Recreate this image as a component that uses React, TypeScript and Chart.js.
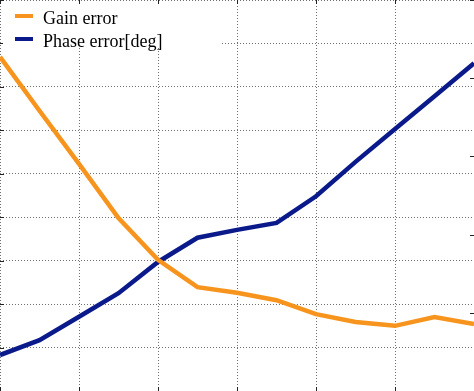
import React, { useEffect, useRef } from "react";
import { Chart, registerables } from "chart.js";

Chart.register(...registerables);

// ---- data ----
const xValues = [0, 1, 2, 3, 4, 5, 6, 7, 8, 9, 10, 11, 12];
const gainError = [0.769, 0.645, 0.523, 0.398, 0.302, 0.239, 0.226, 0.209, 0.177, 0.159, 0.150, 0.170, 0.154];
const phaseError = [0.46, 0.65, 0.95, 1.25, 1.65, 1.96, 2.06, 2.15, 2.49, 2.93, 3.35, 3.77, 4.19];
const seriesLabels = ["Gain error", "Phase error[deg]"];
const xTickValues = [0, 2, 4, 6, 8, 10, 12];
const leftTickValues = [0, 0.1, 0.2, 0.3, 0.4, 0.5, 0.6, 0.7, 0.8, 0.9];
const rightTickValues = [0, 1, 2, 3, 4, 5];

const ORANGE = "#F7941D";
const NAVY = "#0A1A8A";
const GRID = "#707070";

const innerTicks = {
  id: "innerTicks",
  afterDatasetsDraw(chart: any) {
    const { ctx, chartArea: a, scales } = chart;
    ctx.save();
    ctx.strokeStyle = "#222";
    ctx.lineWidth = 1;
    const L = 4;
    ctx.beginPath();
    for (const v of xTickValues) {
      const px = Math.round(scales.x.getPixelForValue(v)) + 0.5;
      ctx.moveTo(px, a.top);
      ctx.lineTo(px, a.top + L);
      ctx.moveTo(px, a.bottom);
      ctx.lineTo(px, a.bottom - L);
    }
    for (const v of leftTickValues) {
      const py = Math.round(scales.y.getPixelForValue(v)) + 0.5;
      ctx.moveTo(a.left, py);
      ctx.lineTo(a.left + L, py);
    }
    for (const v of rightTickValues) {
      const py = Math.round(scales.y1.getPixelForValue(v)) + 0.5;
      ctx.moveTo(a.right, py);
      ctx.lineTo(a.right - L, py);
    }
    ctx.stroke();
    ctx.restore();
  },
};

const boxLegend = {
  id: "boxLegend",
  afterDraw(chart: any) {
    const { ctx, chartArea: a } = chart;
    ctx.save();
    ctx.fillStyle = "#ffffff";
    ctx.fillRect(a.left + 3, a.top + 4, 218, 44);
    ctx.font = '18px "Liberation Serif", "Times New Roman", serif';
    ctx.textBaseline = "alphabetic";
    chart.data.datasets.forEach((ds: any, i: number) => {
      const baseline = a.top + 24 + i * 23;
      const ly = baseline - 8;
      ctx.strokeStyle = ds.borderColor;
      ctx.lineWidth = 4;
      ctx.beginPath();
      ctx.moveTo(a.left + 15, ly);
      ctx.lineTo(a.left + 33, ly);
      ctx.stroke();
      ctx.fillStyle = "#000";
      ctx.fillText(ds.label, a.left + 43, baseline);
    });
    ctx.restore();
  },
};

export default function App() {
  const ref = useRef<HTMLCanvasElement | null>(null);

  useEffect(() => {
    if (!ref.current) return;
    const chart = new Chart(ref.current, {
      type: "line",
      data: {
        datasets: [
          {
            label: seriesLabels[0],
            data: xValues.map((x, i) => ({ x, y: gainError[i] })),
            borderColor: ORANGE,
            backgroundColor: ORANGE,
            borderWidth: 4.5,
            pointRadius: 0,
            tension: 0,
            yAxisID: "y",
          },
          {
            label: seriesLabels[1],
            data: xValues.map((x, i) => ({ x, y: phaseError[i] })),
            borderColor: NAVY,
            backgroundColor: NAVY,
            borderWidth: 4.5,
            pointRadius: 0,
            tension: 0,
            yAxisID: "y1",
          },
        ],
      },
      options: {
        responsive: false,
        animation: false,
        layout: { padding: 0 },
        plugins: { legend: { display: false }, tooltip: { enabled: false } },
        scales: {
          x: {
            type: "linear",
            min: 0,
            max: 12,
            ticks: { display: false, stepSize: 2 },
            grid: { color: GRID, lineWidth: 1, drawTicks: false },
            border: { display: false, dash: [1, 2] },
          },
          y: {
            type: "linear",
            position: "left",
            min: 0,
            max: 0.9,
            ticks: { display: false, stepSize: 0.1 },
            grid: { color: GRID, lineWidth: 1, drawTicks: false },
            border: { display: false, dash: [1, 2] },
          },
          y1: {
            type: "linear",
            position: "right",
            min: 0,
            max: 5,
            ticks: { display: false, stepSize: 1 },
            grid: { display: false, drawTicks: false },
            border: { display: false },
          },
        },
      },
      plugins: [innerTicks, boxLegend],
    });
    return () => chart.destroy();
  }, []);

  return (
    <div style={{ position: "fixed", left: 0, top: 0, width: 474, height: 391, background: "#fff" }}>
      <canvas ref={ref} width={474} height={391} style={{ display: "block", width: 474, height: 391 }} />
    </div>
  );
}
